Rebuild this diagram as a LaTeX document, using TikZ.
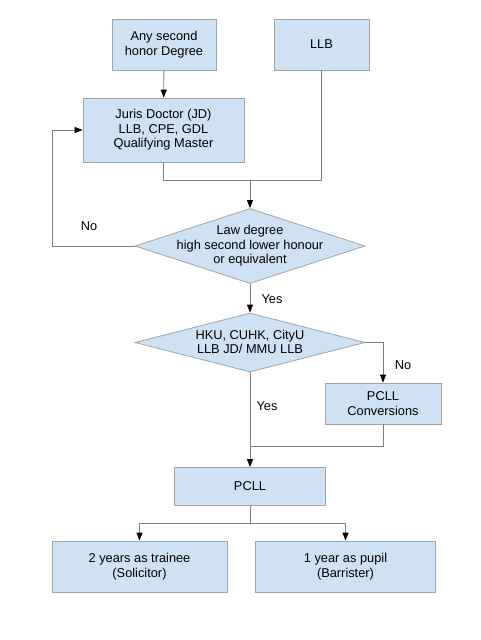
\documentclass[tikz,border=0pt]{standalone}
\usepackage{fontspec}
\setmainfont{Liberation Sans}
\usetikzlibrary{shapes.geometric,arrows.meta}
\definecolor{boxfill}{HTML}{CFE2F3}
\definecolor{boxline}{HTML}{9FA4A8}
\definecolor{conn}{HTML}{808080}
\begin{document}
\begin{tikzpicture}[x=1pt,y=-1pt,
  every node/.style={font=\fontsize{12.8}{14.5}\selectfont},
  box/.style={draw=boxline,fill=boxfill,line width=0.8pt,align=center,inner sep=0pt},
  dec/.style={draw=boxline,fill=boxfill,line width=0.8pt,diamond,inner sep=0pt},
  lbl/.style={inner sep=0pt,align=center},
  line/.style={draw=conn,line width=0.9pt},
  arr/.style={line,-{Triangle[width=6pt,length=8pt,color=black]}}]
\useasboundingbox (0,0) rectangle (480,640);
\node[box,minimum width=104pt,minimum height=51pt] (any) at (164,44.5) {Any second\\honor Degree};
\node[box,minimum width=95pt,minimum height=51pt] (llb) at (321.5,44.5) {LLB};
\node[box,minimum width=161pt,minimum height=64pt] (jd) at (163.5,130) {Juris Doctor (JD)\\LLB, CPE, GDL\\Qualifying Master};
\node[dec,minimum width=230pt,minimum height=75pt] (d1) at (250,246) {};
\node[lbl] (d1t) at (250,246) {Law degree\\high second lower honour\\or equivalent};
\node[dec,minimum width=230pt,minimum height=59pt] (d2) at (250,342.5) {};
\node[lbl] (d2t) at (250,342) {HKU, CUHK, CityU\\LLB JD/ MMU LLB};
\node[box,minimum width=116pt,minimum height=41pt] (conv) at (383,403.5) {PCLL\\Conversions};
\node[box,minimum width=151pt,minimum height=38pt] (pcll) at (250,486.5) {PCLL};
\node[box,minimum width=175pt,minimum height=51pt] (sol) at (139.5,566.5) {2 years as trainee\\(Solicitor)};
\node[box,minimum width=180pt,minimum height=51pt] (bar) at (345.5,566.5) {1 year as pupil\\(Barrister)};
\coordinate (j1) at (250,180.5);
\coordinate (j2) at (250,446);
\coordinate (j3) at (250,523);
\coordinate (lp) at (52,246);
\draw[arr] (any) -- (jd);
\draw[line] (jd.south) |- (j1);
\draw[line] (llb.south) |- (j1);
\draw[arr] (j1) -- (d1.north);
\draw[arr] (d1.west) -- (lp) |- (jd.west);
\node[lbl] (no1) at (89,226) {No};
\draw[arr] (d1.south) -- (d2.north);
\node[lbl] (yes1) at (272,299) {Yes};
\draw[arr] (d2.east) -| (conv.north);
\node[lbl] (no2) at (403,365) {No};
\draw[arr] (d2.south) -- (pcll.north);
\node[lbl] (yes2) at (267,406) {Yes};
\draw[line] (conv.south) |- (j2);
\draw[line] (pcll.south) -- (j3);
\draw[arr] (j3) -| (sol.north);
\draw[arr] (j3) -| (bar.north);
\end{tikzpicture}
\end{document}
